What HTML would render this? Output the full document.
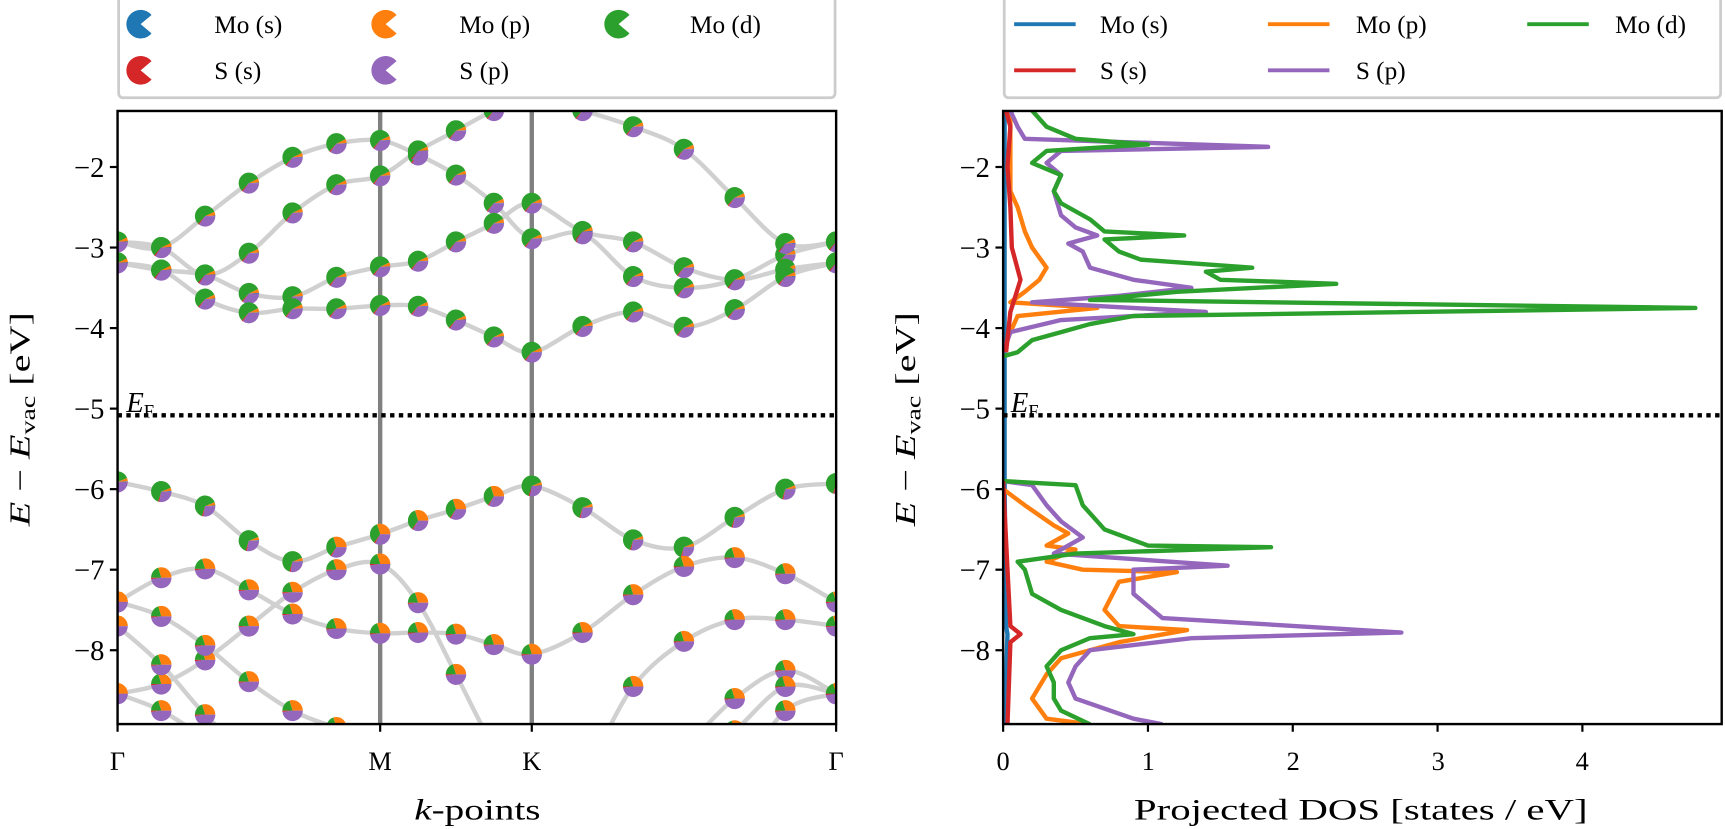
<!DOCTYPE html>
<html><head><meta charset="utf-8"><style>
html,body{margin:0;padding:0;background:#fff;}
svg{display:block;}
text{font-family:"Liberation Serif","DejaVu Serif",serif;fill:#000;}
</style></head><body>
<svg id="s" xmlns="http://www.w3.org/2000/svg" width="1725" height="829" viewBox="0 0 1570 754.5" preserveAspectRatio="none">
<defs>
<clipPath id="cl"><rect x="107" y="101" width="654" height="558"/></clipPath>
<clipPath id="cr"><rect x="913" y="101" width="654" height="558"/></clipPath>
</defs>
<g id="lines" clip-path="url(#cl)"></g>
<g id="dots" clip-path="url(#cl)"></g>
<g id="dos" clip-path="url(#cr)"></g>
<g id="fr"></g>
<rect x="108" y="-5" width="652" height="94" rx="4" fill="#fff" stroke="#ccc" stroke-width="2.5"/>
<rect x="914" y="-5" width="652" height="94" rx="4" fill="#fff" stroke="#ccc" stroke-width="2.5"/>
<g id="leg"></g>
<g font-size="23">
<text x="195" y="30">Mo (s)</text><text x="418" y="30">Mo (p)</text><text x="628" y="30">Mo (d)</text>
<text x="195" y="72">S (s)</text><text x="418" y="72">S (p)</text>
<text x="1001" y="30">Mo (s)</text><text x="1234" y="30">Mo (p)</text><text x="1470" y="30">Mo (d)</text>
<text x="1001" y="72">S (s)</text><text x="1234" y="72">S (p)</text>
</g>
<g font-size="26" text-anchor="end" id="yt"></g>
<g font-size="24" text-anchor="middle">
<text x="107" y="701">Γ</text><text x="346" y="701">M</text><text x="484" y="701">K</text><text x="761" y="701">Γ</text>
<text x="913" y="701">0</text><text x="1045" y="701">1</text><text x="1177" y="701">2</text><text x="1309" y="701">3</text><text x="1440" y="701">4</text>
</g>
<g font-size="27">
<text x="377" y="746" textLength="115" lengthAdjust="spacingAndGlyphs"><tspan font-style="italic">k</tspan>-points</text>
<text x="1032" y="746" textLength="413" lengthAdjust="spacingAndGlyphs">Projected DOS [states / eV]</text>
</g>
<g font-size="26">
<text transform="translate(27,479) rotate(-90)" textLength="195" lengthAdjust="spacingAndGlyphs"><tspan font-style="italic">E</tspan> − <tspan font-style="italic">E</tspan><tspan font-size="18" dy="5">vac</tspan><tspan dy="-5"> [eV]</tspan></text>
<text transform="translate(833,479) rotate(-90)" textLength="195" lengthAdjust="spacingAndGlyphs"><tspan font-style="italic">E</tspan> − <tspan font-style="italic">E</tspan><tspan font-size="18" dy="5">vac</tspan><tspan dy="-5"> [eV]</tspan></text>
</g>
<g font-size="26"><text x="115" y="375" font-style="italic">E<tspan font-size="17" dy="5" font-style="normal">F</tspan></text>
<text x="920" y="375" font-style="italic">E<tspan font-size="17" dy="5" font-style="normal">F</tspan></text></g>
</svg>
<script>
const NS='http://www.w3.org/2000/svg';
function el(t,a,p){const e=document.createElementNS(NS,t);for(const k in a)e.setAttribute(k,a[k]);p.appendChild(e);return e;}
function Y(E){return 152+(-2-E)*73.3;}
function cr(pts){let d='M'+pts[0][0]+','+pts[0][1];for(let i=0;i<pts.length-1;i++){const p0=pts[Math.max(0,i-1)],p1=pts[i],p2=pts[i+1],p3=pts[Math.min(pts.length-1,i+2)];const c1=[p1[0]+(p2[0]-p0[0])/6,p1[1]+(p2[1]-p0[1])/6],c2=[p2[0]-(p3[0]-p1[0])/6,p2[1]-(p3[1]-p1[1])/6];d+=' C'+c1+' '+c2+' '+p2;}return d;}
const xs=[107,146.8,186.7,226.5,266.3,306.2,346,380.5,415,449.5,484,530.2,576.3,622.5,668.7,714.8,761];
const C=['#1f77b4','#ff7f0e','#2ca02c','#d62728','#9467bd'];
const bands=[
['c',[-2.93,-3.0,-2.61,-2.2,-1.88,-1.71,-1.67,-1.85,-2.1,-2.45,-2.89,-2.83,-3.36,-3.5,-3.4,-3.09,-2.93]],
['c',[-2.93,-3.0,-3.34,-3.07,-2.57,-2.22,-2.11,-1.8,-1.55,-1.3,-1.15,-1.3,-1.5,-1.78,-2.38,-2.95,-2.93]],
['c',[-3.19,-3.28,-3.34,-3.57,-3.61,-3.37,-3.24,-3.17,-2.93,-2.7,-2.45,-2.8,-2.93,-3.25,-3.4,-3.27,-3.19]],
['c',[-3.19,-3.28,-3.64,-3.81,-3.76,-3.76,-3.72,-3.73,-3.9,-4.11,-4.3,-3.98,-3.8,-3.99,-3.77,-3.36,-3.19]],
['v1',[-5.91,-6.03,-6.21,-6.64,-6.9,-6.72,-6.56,-6.39,-6.25,-6.09,-5.96,-6.23,-6.63,-6.72,-6.35,-6.0,-5.93]],
['v',[-7.4,-7.1,-6.99,-7.25,-7.55,-7.73,-7.79,-7.78,-7.8,-7.93,-8.05,-7.78,-7.31,-6.96,-6.85,-7.05,-7.4]],
['v',[-8.54,-8.42,-8.12,-7.7,-7.28,-7.0,-6.93,-7.41,-8.3,-9.2,-9.8,-9.5,-8.45,-7.89,-7.62,-7.62,-7.7]],
['v',[-7.4,-7.58,-7.94,-8.39,-8.75,-8.96,-9.1,-9.3,-9.4,-9.5,-9.6,-9.8,-9.6,-9.2,-8.6,-8.25,-8.54]],
['v',[-7.7,-8.18,-8.8,-9.3,-9.6,-9.8,-9.9,-9.9,-9.9,-9.9,-9.9,-9.9,-9.9,-9.5,-9.0,-8.45,-8.54]],
['v',[-8.54,-8.75,-9.1,-9.5,-9.7,-9.8,-9.9,-9.9,-9.9,-9.9,-9.9,-9.9,-9.9,-9.9,-9.6,-8.75,-8.54]]
];
const L=document.getElementById('lines'),D=document.getElementById('dots');
function pie(cx,cy,fr,g,rx,ry,start){let a=start||0;fr.forEach((f,i)=>{if(f<=0)return;const b=a+f*2*Math.PI;const x1=cx+rx*Math.cos(a),y1=cy-ry*Math.sin(a),x2=cx+rx*Math.cos(b),y2=cy-ry*Math.sin(b);el('path',{d:`M${cx},${cy} L${x1},${y1} A${rx},${ry} 0 ${f>0.5?1:0} 0 ${x2},${y2} Z`,fill:C[i]},g);a=b;});}
el('line',{x1:346,y1:101,x2:346,y2:659,stroke:'#808080','stroke-width':4},L);
el('line',{x1:484,y1:101,x2:484,y2:659,stroke:'#808080','stroke-width':4},L);
bands.forEach(b=>{const pts=b[1].map((e,i)=>[xs[i],Y(e)]);el('path',{d:cr(pts),fill:'none',stroke:'#d0d0d0','stroke-width':4},L);});
bands.forEach(b=>{b[1].forEach((e,i)=>{const y=Y(e);if(y<85||y>675)return;let fr;if(b[0]=='c')fr=[0.01,0.06,0.56,0.02,0.35];else if(b[0]=='v1')fr=(i>=5&&i<=9)?[0,0.3,0.35,0.02,0.33]:[0.01,0.05,0.64,0.02,0.28];else fr=[0,0.3,0.2,0.02,0.48];pie(xs[i],y,fr,D,9.3,9.6,0);});});
const F=document.getElementById('fr');
el('line',{x1:107,y1:378,x2:761,y2:378,stroke:'#000','stroke-width':4,'stroke-dasharray':'4 4'},F);
el('line',{x1:913,y1:378,x2:1567,y2:378,stroke:'#000','stroke-width':4,'stroke-dasharray':'4 4'},F);
el('rect',{x:107,y:101,width:654,height:558,fill:'none',stroke:'#000','stroke-width':2.2},F);
el('rect',{x:913,y:101,width:654,height:558,fill:'none',stroke:'#000','stroke-width':2.2},F);
const YT=document.getElementById('yt');
[-2,-3,-4,-5,-6,-7,-8].forEach(e=>{const y=Y(e);[107,913].forEach(x=>{el('line',{x1:x-7,y1:y,x2:x,y2:y,stroke:'#000','stroke-width':2},F);const t=el('text',{x:x-12,y:y+9},YT);t.textContent='−'+(-e);});});
[107,346,484,761].forEach(x=>el('line',{x1:x,y1:659,x2:x,y2:666,stroke:'#000','stroke-width':2},F));
[0,1,2,3,4].forEach(v=>{const x=913+v*131.8;el('line',{x1:x,y1:659,x2:x,y2:666,stroke:'#000','stroke-width':2},F);});
const DS=document.getElementById('dos');
function dl(arr,c){const pts=arr.map(p=>[913+p[0]*131.8,Y(p[1])]);el('polyline',{points:pts.map(p=>p.join(',')).join(' '),fill:'none',stroke:c,'stroke-width':4,'stroke-linejoin':'round'},DS);}
dl([[0.01,-1.3],[0.01,-4.3],[0.01,-5.9],[0.02,-7.7],[0.03,-7.8],[0.01,-8.92]],C[0]);
dl([[0.05,-1.3],[0.05,-2.3],[0.1,-2.5],[0.15,-2.8],[0.2,-3.0],[0.3,-3.25],[0.25,-3.4],[0.15,-3.55],[0.05,-3.68],[0.65,-3.75],[0.1,-3.85],[0.05,-4.05],[0,-4.3]],C[1]);
dl([[0,-6.0],[0.15,-6.2],[0.35,-6.45],[0.45,-6.55],[0.3,-6.7],[0.5,-6.75],[0.3,-6.9],[0.55,-7.0],[1.2,-7.03],[0.8,-7.15],[0.7,-7.5],[0.8,-7.7],[1.27,-7.75],[0.8,-7.9],[0.4,-8.1],[0.3,-8.3],[0.2,-8.6],[0.3,-8.85],[0.6,-8.92]],C[1]);
dl([[0.05,-1.3],[0.1,-1.5],[0.15,-1.65],[1.83,-1.75],[0.4,-1.8],[0.3,-1.95],[0.4,-2.1],[0.35,-2.3],[0.4,-2.6],[0.5,-2.75],[0.65,-2.85],[0.45,-2.95],[0.55,-3.05],[0.6,-3.25],[0.9,-3.4],[1.3,-3.5],[0.8,-3.6],[0.2,-3.68],[0.6,-3.72],[1.4,-3.8],[0.4,-3.9],[0.05,-4.05],[0,-4.3]],C[4]);
dl([[0,-5.9],[0.2,-5.95],[0.3,-6.2],[0.4,-6.4],[0.55,-6.6],[0.35,-6.8],[1.55,-6.95],[0.9,-7.0],[0.9,-7.3],[1.1,-7.6],[2.75,-7.78],[1.3,-7.85],[0.6,-8.0],[0.5,-8.2],[0.45,-8.4],[0.5,-8.6],[0.9,-8.85],[1.1,-8.92]],C[4]);
dl([[0.2,-1.3],[0.3,-1.5],[0.5,-1.65],[1.0,-1.72],[0.3,-1.8],[0.2,-1.95],[0.4,-2.1],[0.35,-2.3],[0.4,-2.45],[0.6,-2.65],[0.7,-2.8],[1.25,-2.85],[0.7,-2.9],[0.8,-3.05],[0.95,-3.15],[1.72,-3.25],[1.4,-3.3],[1.5,-3.4],[2.3,-3.45],[1.2,-3.55],[0.6,-3.65],[4.78,-3.75],[0.9,-3.85],[0.6,-3.95],[0.4,-4.05],[0.2,-4.15],[0.1,-4.3],[0,-4.35]],C[2]);
dl([[0,-5.9],[0.5,-5.95],[0.55,-6.2],[0.7,-6.5],[1.0,-6.7],[1.85,-6.72],[0.5,-6.8],[0.1,-6.9],[0.15,-7.0],[0.2,-7.3],[0.4,-7.5],[0.7,-7.7],[0.9,-7.8],[0.6,-7.85],[0.4,-8.0],[0.3,-8.2],[0.35,-8.4],[0.35,-8.6],[0.4,-8.75],[0.6,-8.92]],C[2]);
dl([[0.02,-1.3],[0.05,-1.5],[0.03,-2.0],[0.05,-2.5],[0.06,-3.0],[0.12,-3.4],[0.05,-3.8],[0.02,-4.3]],C[3]);
dl([[0,-5.9],[0.03,-7.0],[0.05,-7.7],[0.12,-7.8],[0.05,-7.9],[0.03,-8.92]],C[3]);
const G=document.getElementById('leg');
[[128,22,0],[351,22,1],[563,22,2],[128,64,3],[351,64,4]].forEach(m=>{const cx=m[0],cy=m[1],r=13;const a=0.7;el('path',{d:`M${cx},${cy} L${cx+r*Math.cos(a)},${cy-r*Math.sin(a)} A${r},${r} 0 1 0 ${cx+r*Math.cos(a)},${cy+r*Math.sin(a)} Z`,fill:C[m[2]]},G);});
[[923,22,0],[1154,22,1],[1390,22,2],[923,64,3],[1154,64,4]].forEach(m=>el('line',{x1:m[0],y1:m[1],x2:m[0]+56,y2:m[1],stroke:C[m[2]],'stroke-width':3.5},G));
</script>
</body></html>
